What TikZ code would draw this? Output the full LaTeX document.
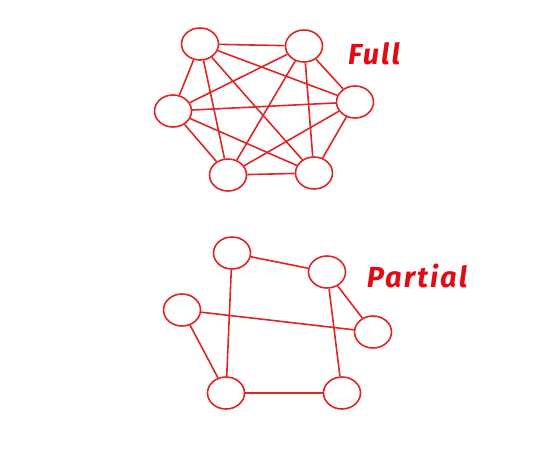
\documentclass[tikz,border=0pt]{standalone}
\usepackage{fontspec}
\setmainfont{Fira Sans}
\usetikzlibrary{shapes.geometric}
\definecolor{lred}{RGB}{222,38,38}
\definecolor{tred}{RGB}{226,10,20}
\tikzset{
  vtx/.style={ellipse, draw=lred, line width=1.6pt, minimum width=37pt, minimum height=32pt, inner sep=0pt},
  edge/.style={draw=lred, line width=1.6pt},
  lbl/.style={text=tred, font=\fontsize{29}{30}\selectfont\bfseries\itshape\addfontfeatures{LetterSpace=7}, inner sep=0pt}
}
\begin{document}
\begin{tikzpicture}[x=1pt,y=-1pt]
\useasboundingbox (0,0) rectangle (545,449);
% Full
\node[vtx] (a) at (200,44) {};
\node[vtx] (b) at (304,46) {};
\node[vtx] (c) at (173,111) {};
\node[vtx] (d) at (355,102) {};
\node[vtx] (e) at (228,175) {};
\node[vtx] (f) at (314,173) {};
\foreach \u/\v in {a/b,a/c,a/d,a/e,a/f,b/c,b/d,b/e,b/f,c/d,c/e,c/f,d/e,d/f,e/f}
  \draw[edge] (\u) -- (\v);
\node[lbl] (full) at (374,54) {Full};
% Partial
\node[vtx] (p1) at (232,253) {};
\node[vtx] (p2) at (327,272) {};
\node[vtx] (p3) at (182,310) {};
\node[vtx] (p4) at (373,332) {};
\node[vtx] (p5) at (226,393) {};
\node[vtx] (p6) at (342,393) {};
\foreach \u/\v in {p1/p2,p1/p5,p2/p4,p2/p6,p3/p4,p3/p5,p5/p6}
  \draw[edge] (\u) -- (\v);
\node[lbl] (partial) at (417,276) {Partial};
\end{tikzpicture}
\end{document}
